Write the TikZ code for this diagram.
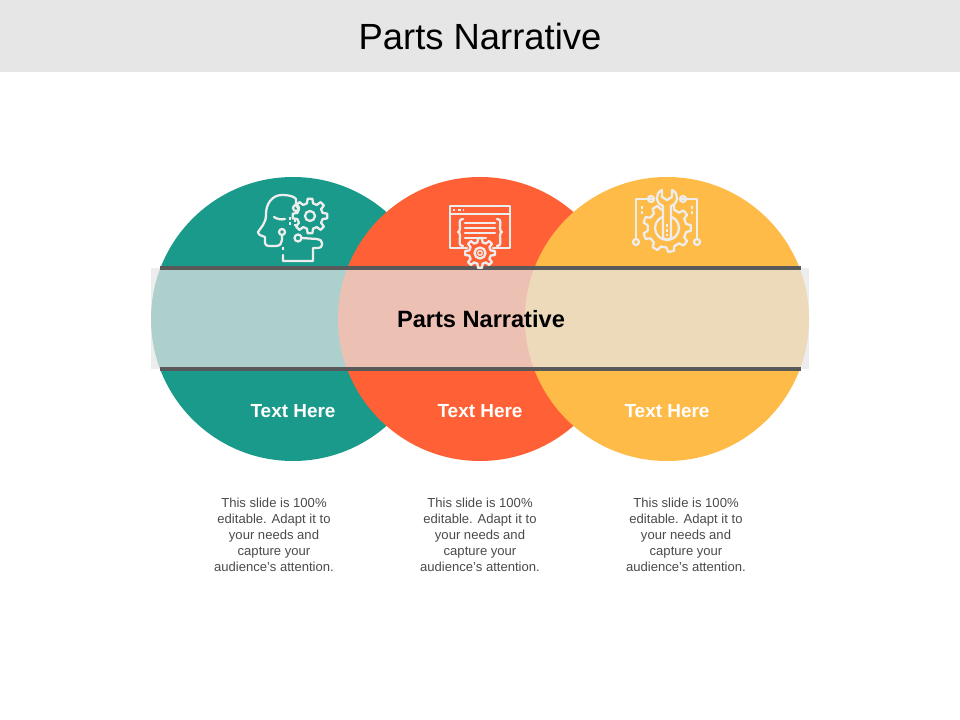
\documentclass[tikz,border=0pt]{standalone}
\usepackage{fontspec}
\setmainfont{Liberation Sans}
\definecolor{barGray}{HTML}{E7E6E6}
\definecolor{ruleGray}{HTML}{595959}
\definecolor{bodyGray}{HTML}{4A4A4A}
\definecolor{tealOne}{HTML}{1A9A8A}
\definecolor{orangeTwo}{HTML}{FF6035}
\definecolor{yellowThree}{HTML}{FFBB48}
\tikzset{
  disc/.style={circle,minimum size=213pt,inner sep=0pt,outer sep=0pt},
  headline/.style={font=\fontsize{14.2}{17}\selectfont\bfseries,text=white},
  blurb/.style={font=\fontsize{9.8}{12}\selectfont,text=bodyGray,align=center},
  iconline/.style={draw=white!93!black,line width=1.7pt,line join=round,line cap=round},
  dotline/.style={iconline,line cap=butt,dash pattern=on 2.2pt off 1.6pt}
}
% cx, cy, outer radius, inner radius, teeth
\newcommand{\gearicon}[6][none]{
  \begin{scope}[shift={(#2,#3)}]
    \draw[iconline,fill=#1] ({(0-0.3)*360/#6}:#5)
      \foreach \t in {0,...,\numexpr#6-1\relax} {
        -- ({(\t-0.3)*360/#6}:#5) -- ({(\t-0.17)*360/#6}:#4)
        -- ({(\t+0.17)*360/#6}:#4) -- ({(\t+0.3)*360/#6}:#5)
      } -- cycle;
  \end{scope}
}
\begin{document}
\begin{tikzpicture}[x=0.75pt,y=-0.75pt]
  \useasboundingbox (0,0) rectangle (960,720);
  % title bar
  \fill[barGray] (0,0) rectangle (960,72);
  \node[font=\fontsize{27.3}{32}\selectfont,text=black] (title) at (480,36) {Parts Narrative};
  % circles
  \node[disc,fill=tealOne] (discA) at (293,319) {};
  \node[disc,fill=orangeTwo] (discB) at (480,319) {};
  \node[disc,fill=yellowThree] (discC) at (667,319) {};
  % band
  \fill[barGray,fill opacity=0.72] (151,268) rectangle (809,369);
  \draw[ruleGray,line width=2.3pt] (160,268) -- (801,268);
  \draw[ruleGray,line width=2.3pt] (160,369) -- (801,369);
  \node[font=\fontsize{17.7}{21}\selectfont\bfseries,text=black] (middle) at (481,319) {Parts Narrative};
  % labels
  \node[headline] (headA) at (293,411) {Text Here};
  \node[headline] (headB) at (480,411) {Text Here};
  \node[headline] (headC) at (667,411) {Text Here};
  \node[blurb] (textA) at (274,535) {This slide is 100\%\\editable. Adapt it to\\your needs and\\capture your\\audience's attention.};
  \node[blurb] (textB) at (480,535) {This slide is 100\%\\editable. Adapt it to\\your needs and\\capture your\\audience's attention.};
  \node[blurb] (textC) at (686,535) {This slide is 100\%\\editable. Adapt it to\\your needs and\\capture your\\audience's attention.};
  % head icon
  \draw[iconline] (296,205) -- (296,199) .. controls (294,196) and (288,195) .. (282,195)
    .. controls (272,195) and (266,204) .. (266,214) .. controls (266,219) and (265,222) .. (263,225)
    -- (258,232) .. controls (258,235) and (262,236) .. (265,237) -- (265,243)
    .. controls (265,245) and (267,246) .. (269,246) -- (276,246)
    .. controls (280,246) and (282,243) .. (282,240) -- (282,235);
  \draw[iconline] (296,208) circle (3);
  \draw[iconline] (282,232) circle (3);
  \draw[iconline] (274,217) .. controls (277,219) and (281,220) .. (285,219);
  \draw[dotline] (290,217) -- (290,226);
  \draw[dotline] (295,219) -- (295,226);
  \gearicon{310}{216}{17.5}{13}{8}
  \draw[iconline] (310,216) circle (5);
  \draw[iconline] (298,238) circle (3.5);
  \draw[iconline] (302,238) -- (317,239) .. controls (320,239) and (322,241) .. (322,243)
    -- (322,245) .. controls (322,247) and (320,248) .. (318,248) -- (313,248) -- (313,261) -- (283,261) -- (283,255);
  \draw[dotline] (283,247) -- (283,252);
  % window icon
  \draw[iconline] (467,248) -- (450,248) -- (450,206) -- (510,206) -- (510,248) -- (493,248);
  \draw[iconline] (450,214) -- (510,214);
  \draw[dotline] (452.5,210) -- (463,210);
  \draw[iconline] (463,219) .. controls (458,219) and (460,224) .. (460,228)
    .. controls (460,231) and (459,232) .. (458,232) .. controls (459,232) and (460,233) .. (460,236)
    .. controls (460,241) and (458,246) .. (463,246);
  \draw[iconline] (497,219) .. controls (502,219) and (500,224) .. (500,228)
    .. controls (500,231) and (501,232) .. (502,232) .. controls (501,232) and (500,233) .. (500,236)
    .. controls (500,241) and (502,246) .. (497,246);
  \draw[iconline] (465,223) -- (495,223);
  \draw[iconline] (465,228) -- (495,228);
  \draw[iconline] (465,233) -- (495,233);
  \draw[iconline] (465,238) -- (486,238);
  \gearicon[orangeTwo]{480}{253}{15}{11}{8}
  \draw[iconline] (480,253) circle (5.5);
  \draw[iconline,line width=1pt] (480,253) circle (2.3);
  % wrench icon
  \draw[iconline] (654,199) -- (636,199) -- (636,239);
  \draw[iconline] (680,199) -- (697,199) -- (697,239);
  \draw[iconline] (651,199) circle (3);
  \draw[iconline] (683,199) circle (3);
  \draw[iconline] (636,242) circle (3);
  \draw[iconline] (697,242) circle (3);
  \draw[dotline] (642,206) -- (642,214);
  \draw[dotline] (692,206) -- (692,214);
  \gearicon{667}{228}{24}{19.5}{9}
  \draw[iconline] (667,228) circle (12);
  \draw[iconline,fill=yellowThree] (662,190) .. controls (658,192) and (657,195) .. (657,198)
    .. controls (657,202) and (660,205) .. (663,206) -- (663,238) .. controls (665,240) and (669,240) .. (671,238)
    -- (671,206) .. controls (674,205) and (677,202) .. (677,198) .. controls (677,195) and (676,192) .. (672,190)
    -- (672,197) -- (667,200) -- (662,197) -- cycle;
  \draw[dotline] (667,224) -- (667,236);
\end{tikzpicture}
\end{document}
